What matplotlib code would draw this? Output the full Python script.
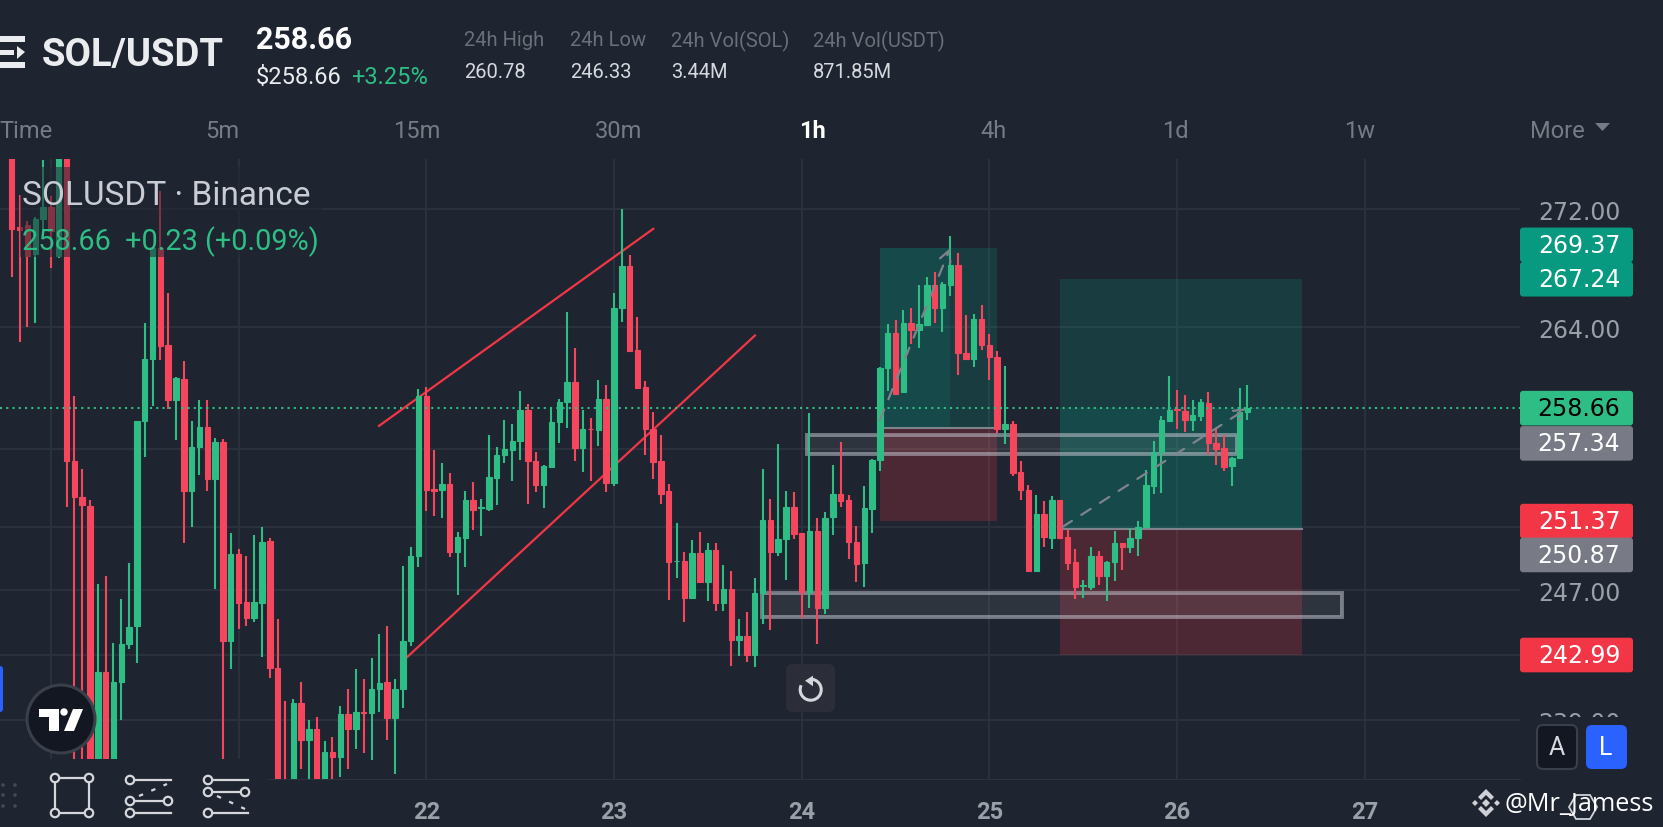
import numpy as np
import matplotlib
matplotlib.use("Agg")
import matplotlib.pyplot as plt
from matplotlib.patches import Rectangle, FancyBboxPatch, Circle, Polygon, Arc
from matplotlib.ticker import NullLocator, NullFormatter

# Hourly candles, first one is 53 hours before day 22
opens = [
    276.90, 270.80, 270.92, 268.98, 271.37, 272.20, 268.84, 276.90, 255.19, 252.93,
    252.36, 235.00, 241.96, 235.50, 241.32, 243.64, 244.77, 257.82, 261.91, 269.39,
    262.80, 259.22, 260.60, 253.32, 256.15, 257.40, 254.04, 256.48, 243.83, 249.26,
    246.30, 245.30, 246.24, 250.13, 242.17, 235.30, 234.80, 240.03, 237.81, 238.50,
    235.20, 237.07, 236.77, 239.36, 238.47, 239.51, 239.42, 240.90, 241.36, 239.14,
    240.90, 243.83, 249.13, 259.44, 253.44, 253.34, 253.76, 249.38, 250.32, 252.74,
    252.23, 252.17, 254.11, 255.59, 255.96, 256.49, 258.52, 255.25, 253.70, 254.86,
    257.74, 259.04, 260.35, 256.09, 257.33, 257.26, 259.28, 253.83, 265.27, 268.14,
    262.47, 260.07, 257.33, 255.21, 253.26, 248.82, 248.83, 246.55, 249.32, 247.53,
    249.53, 246.18, 247.07, 243.89, 244.19, 243.02, 246.81, 251.41, 249.38, 250.26,
    252.25, 250.63, 246.89, 250.75, 245.87, 251.61, 253.12, 252.74, 250.07, 248.69,
    252.17, 255.27, 261.33, 263.66, 259.70, 264.27, 263.80, 264.13, 266.84, 265.33,
    266.84, 268.18, 262.27, 261.93, 264.53, 262.80, 262.02, 257.33, 257.65, 254.49,
    253.34, 248.21, 251.85, 250.32, 252.74, 250.34, 248.75, 247.29, 247.21, 249.13,
    247.89, 248.75, 249.95, 249.70, 250.32, 251.00, 253.63, 255.79, 257.85, 258.59,
    258.50, 257.91, 258.13, 259.02, 256.41, 256.04, 254.88, 255.40, 258.42,
]
closes = [
    270.65, 270.60, 268.84, 271.37, 272.20, 270.50, 276.90, 255.19, 252.93, 252.42,
    235.00, 241.96, 235.50, 241.36, 243.64, 244.72, 257.82, 261.91, 269.39, 262.73,
    259.22, 260.63, 253.32, 256.15, 257.40, 254.04, 256.48, 243.83, 249.26, 246.24,
    245.30, 246.30, 250.07, 242.17, 235.30, 234.80, 240.03, 237.81, 238.50, 235.20,
    237.07, 236.77, 239.36, 238.47, 239.51, 239.42, 240.90, 241.30, 239.14, 240.90,
    243.83, 249.13, 259.44, 253.38, 253.32, 253.76, 249.38, 250.34, 252.74, 252.06,
    252.26, 254.17, 255.63, 256.02, 256.49, 258.52, 255.25, 253.70, 254.92, 257.74,
    259.09, 260.35, 256.09, 257.33, 257.30, 259.28, 253.83, 265.27, 268.14, 262.40,
    260.00, 257.33, 255.14, 253.12, 248.75, 248.85, 246.55, 249.32, 247.53, 249.53,
    246.18, 247.07, 243.89, 244.19, 243.02, 246.81, 251.41, 249.38, 250.26, 252.25,
    250.57, 246.89, 250.75, 245.87, 251.59, 253.12, 252.68, 250.07, 248.63, 252.23,
    255.31, 261.33, 263.60, 259.61, 264.27, 263.80, 264.20, 266.84, 265.33, 266.89,
    268.18, 262.27, 261.87, 264.53, 262.80, 262.02, 257.33, 257.65, 254.47, 253.34,
    248.21, 251.85, 250.34, 252.74, 250.32, 248.69, 247.21, 247.33, 249.13, 247.89,
    248.75, 249.95, 249.72, 250.32, 251.00, 253.70, 255.83, 257.91, 258.57, 258.55,
    257.91, 258.19, 259.04, 256.41, 256.02, 254.86, 255.44, 258.44, 258.66,
]
highs = [
    277.50, 273.00, 271.23, 271.50, 275.40, 272.95, 277.40, 277.50, 259.43, 254.70,
    252.74, 247.39, 247.87, 243.70, 246.49, 248.69, 257.82, 264.30, 269.39, 273.30,
    266.34, 260.73, 261.74, 257.85, 259.22, 259.22, 256.74, 256.67, 250.63, 249.63,
    249.13, 250.50, 250.97, 250.32, 245.24, 240.15, 240.27, 241.32, 239.00, 239.18,
    237.73, 237.97, 239.90, 240.90, 242.13, 241.49, 242.78, 244.29, 244.81, 241.49,
    248.50, 249.70, 259.91, 260.08, 255.96, 255.12, 254.47, 250.69, 253.32, 253.85,
    252.80, 256.93, 256.11, 257.91, 257.65, 259.81, 258.96, 255.83, 254.99, 258.76,
    259.28, 265.00, 262.66, 258.57, 258.04, 260.53, 260.20, 266.34, 272.05, 268.91,
    264.67, 260.47, 258.44, 256.89, 253.76, 251.25, 249.44, 250.15, 250.69, 250.00,
    249.95, 248.56, 248.19, 245.24, 245.68, 247.77, 254.73, 252.80, 256.35, 253.32,
    253.20, 250.63, 258.37, 251.59, 251.93, 254.99, 256.48, 253.01, 251.06, 253.59,
    255.38, 261.35, 264.20, 264.47, 265.20, 265.33, 266.82, 267.37, 267.72, 267.03,
    270.16, 269.05, 264.80, 264.93, 265.53, 263.53, 262.40, 261.42, 257.80, 255.21,
    253.66, 253.06, 252.68, 252.99, 252.74, 250.81, 249.63, 247.63, 249.72, 249.46,
    248.83, 250.75, 249.95, 250.94, 251.37, 254.67, 256.49, 258.13, 260.75, 259.87,
    259.50, 259.17, 259.28, 259.74, 257.39, 256.93, 255.51, 260.00, 260.15,
]
lows = [
    267.40, 263.00, 264.03, 264.27, 270.50, 268.02, 268.70, 252.28, 235.00, 236.00,
    234.50, 234.50, 235.00, 235.00, 239.03, 243.39, 242.50, 255.50, 258.83, 261.80,
    258.63, 256.60, 249.95, 250.97, 254.30, 253.32, 247.07, 236.00, 242.13, 244.59,
    244.81, 245.05, 242.84, 241.55, 235.00, 234.50, 234.50, 236.10, 235.30, 235.00,
    235.00, 235.30, 235.63, 236.05, 237.25, 237.01, 236.59, 239.48, 237.81, 235.78,
    239.78, 243.52, 248.44, 252.04, 251.68, 251.59, 249.09, 246.70, 248.44, 250.81,
    250.40, 252.04, 252.37, 255.12, 253.93, 255.31, 252.48, 253.20, 252.23, 254.80,
    256.41, 257.39, 255.21, 254.49, 253.93, 256.22, 253.20, 253.63, 264.34, 262.40,
    259.94, 255.63, 254.08, 252.44, 246.37, 247.77, 245.00, 246.49, 247.53, 246.33,
    245.74, 245.74, 242.31, 242.92, 242.55, 242.23, 244.93, 244.56, 249.15, 247.65,
    250.26, 245.30, 245.93, 243.64, 245.50, 250.50, 252.25, 248.94, 247.53, 247.21,
    250.63, 254.56, 259.77, 259.61, 259.70, 262.87, 262.60, 264.13, 264.27, 263.69,
    266.09, 260.87, 261.80, 261.40, 262.48, 260.49, 257.07, 256.35, 254.27, 252.74,
    248.21, 248.13, 249.70, 249.63, 250.26, 248.25, 246.49, 246.55, 247.00, 247.31,
    246.33, 247.59, 248.25, 249.32, 249.13, 251.00, 253.12, 253.19, 257.85, 257.33,
    257.09, 257.20, 257.80, 255.63, 254.99, 254.56, 253.59, 255.40, 257.87,
]

day_ticks = [20, 21, 22, 23, 24, 25, 26, 27]
day_labels = ["", "", "22", "23", "24", "25", "26", "27"]
price_ticks = [272, 264, 256, 251, 247, 243, 239]
price_labels = ["272.00", "264.00", "", "", "247.00", "", "239.00"]
last_price = 258.66

# start day, end day, stop, entry, target
short_box = (24.417, 25.042, 251.37, 257.34, 269.37)
long_box = (25.375, 26.667, 242.99, 250.87, 267.24)
# gray zones: start day, end day, low, high
zones = [(24.03, 26.318, 255.68, 256.90), (23.79, 26.88, 245.37, 246.83)]
# trend lines: day, price, day, price
trend_lines = [(21.748, 257.50, 23.209, 270.67), (21.896, 242.84, 23.751, 263.46)]

tag_values = ["269.37", "267.24", "258.66", "257.34", "251.37", "250.87", "242.99"]
tag_colors = ["#089981", "#089981", "#2ebd85", "#787b86", "#f23645", "#787b86", "#f23645"]
tag_text = ["white", "white", "black", "white", "white", "white", "white"]
tag_shift = [-3, 0, 0, 15, 0, 26, 0]

stat_names = ["24h High", "24h Low", "24h Vol(SOL)", "24h Vol(USDT)"]
stat_values = ["260.78", "246.33", "3.44M", "871.85M"]
stat_x = [464, 570, 671, 813]
intervals = ["Time", "5m", "15m", "30m", "1h", "4h", "1d", "1w"]
interval_x = [26, 222, 417, 619, 812, 994, 1175, 1360]

BG = "#1e2530"
GRID = "#2d333e"
GREEN = "#2ebd85"
RED = "#f6465d"
W, H = 1663, 828

plt.rcParams["font.family"] = ["Roboto", "DejaVu Sans"]

fig = plt.figure(figsize=(W / 100, H / 100), dpi=100, facecolor=BG)
ax = fig.add_axes([0, 48.3 / H, 1520 / W, 620 / H], facecolor=BG)

# Price axis is logarithmic
ax.set_yscale("log")
ax.yaxis.set_minor_locator(NullLocator())
ax.yaxis.set_minor_formatter(NullFormatter())
ax.set_ylim(235.5, 275.52)
ax.set_xlim(19.729, 27.827)
ax.set_yticks(price_ticks)
ax.set_yticklabels(price_labels, family="DejaVu Sans", fontsize=17, color="#9a9fa8")
ax.yaxis.tick_right()
ax.set_xticks(day_ticks)
ax.set_xticklabels(day_labels, fontsize=17, fontweight="bold", color="#9a9fa8")
ax.tick_params(axis="x", length=0, pad=15)
ax.tick_params(axis="y", length=0, pad=13)
ax.grid(True, color=GRID, lw=1.3, zorder=0)
ax.set_axisbelow(True)
for name, spine in ax.spines.items():
    spine.set_visible(name == "bottom")
    spine.set_color(GRID)

# Position boxes, the brighter part is what the trade has already covered
x0, x1, stop, entry, target = short_box
ax.add_patch(Rectangle((x0, entry), x1 - x0, target - entry, fc="#089981", alpha=0.2, lw=0, zorder=1))
ax.add_patch(Rectangle((x0, entry), 24.792 - x0, target - entry, fc="#089981", alpha=0.15, lw=0, zorder=1))
ax.add_patch(Rectangle((x0, stop), x1 - x0, entry - stop, fc="#f23645", alpha=0.22, lw=0, zorder=1))
x0, x1, stop, entry, target = long_box
ax.add_patch(Rectangle((x0, entry), x1 - x0, target - entry, fc="#089981", alpha=0.2, lw=0, zorder=1))
ax.add_patch(Rectangle((x0, entry), x1 - x0, last_price - entry, fc="#089981", alpha=0.15, lw=0, zorder=1))
ax.add_patch(Rectangle((x0, stop), x1 - x0, entry - stop, fc="#f23645", alpha=0.22, lw=0, zorder=1))
ax.plot([short_box[0], short_box[1]], [short_box[3]] * 2, color="#7f838c", lw=1.5, zorder=1.5)
ax.plot([long_box[0], long_box[1]], [long_box[3]] * 2, color="#7f838c", lw=1.5, zorder=1.5)

for x0, x1, low, high in zones:
    ax.add_patch(Rectangle((x0, low), x1 - x0, high - low, fc=(1, 1, 1, 0.07), ec=(0.8, 0.81, 0.85, 0.5), lw=2.8, zorder=2))

for xa, ya, xb, yb in trend_lines:
    ax.plot([xa, xb], [ya, yb], color="#f23645", lw=1.6, zorder=2.5)

# Candles
o = np.array(opens)
c = np.array(closes)
hi = np.array(highs)
lo = np.array(lows)
days = 22 + (np.arange(len(o)) - 53) / 24
colors = [GREEN if b >= a else RED for a, b in zip(o, c)]
ax.vlines(days, lo, hi, colors=colors, lw=1.5, zorder=3)
ax.bar(days, np.abs(c - o), bottom=np.minimum(o, c), width=0.029, color=colors, edgecolor=colors, lw=0.8, zorder=3)

# Dashed arrows of the two positions
arrow = dict(arrowstyle="->", linestyle=(0, (5, 5)), color="#7f838c", lw=1.6, mutation_scale=20, shrinkA=0, shrinkB=0)
ax.annotate("", xy=(24.792, 269.37), xytext=(24.417, 257.9), arrowprops=arrow, zorder=4)
ax.annotate("", xy=(26.375, last_price), xytext=(25.39, 251.0), arrowprops=arrow, zorder=4)

ax.axhline(last_price, color=GREEN, lw=1.5, ls=(0, (1, 2)), zorder=4)

# Everything around the chart is drawn on a pixel overlay
ui = fig.add_axes([0, 0, 1, 1], facecolor="none", zorder=5)
ui.set_xlim(0, W)
ui.set_ylim(H, 0)
ui.axis("off")


def price_y(value):
    return H - ax.transData.transform((22, value))[1]


def round_box(x, y, w, h, fc, ec="none", lw=0, r=3, zorder=2):
    ui.add_patch(FancyBboxPatch((x + r, y + r), w - 2 * r, h - 2 * r, boxstyle=f"round,pad={r},rounding_size={r}",
                                fc=fc, ec=ec, lw=lw, zorder=zorder))


# Legend sits on a faded strip over the candles
ui.add_patch(Rectangle((20, 168), 302, 90, fc=BG, alpha=0.55, lw=0, zorder=1))
ui.text(22, 196, "SOLUSDT · Binance", color="#c9ccd4", fontsize=24, va="center", family="Roboto", zorder=2)
ui.text(22, 242, "258.66  +0.23 (+0.09%)", color=GREEN, fontsize=20.8, va="center", family="Roboto", zorder=2)

# Header
ui.add_patch(Rectangle((0, 37), 25, 6, fc="#eaecef", lw=0))
ui.add_patch(Rectangle((0, 51), 14, 5, fc="#eaecef", lw=0))
ui.add_patch(Polygon([(17, 47), (25, 53), (17, 60)], fc="#eaecef", lw=0))
ui.add_patch(Rectangle((0, 63), 25, 6, fc="#eaecef", lw=0))
ui.text(42, 55, "SOL/USDT", color="#eaecef", fontsize=27.5, fontweight="bold", va="center")
ui.text(256, 40, "258.66", color="#ffffff", fontsize=22, fontweight="bold", va="center")
ui.text(256, 78, "$258.66", color="#eaecef", fontsize=17, va="center")
ui.text(351, 78, "+3.25%", color=GREEN, fontsize=17, va="center")
for name, value, x in zip(stat_names, stat_values, stat_x):
    ui.text(x, 41, name, color="#6a7079", fontsize=14.5, va="center")
    ui.text(x, 73, value, color="#d5d8de", fontsize=14.5, va="center")

for label, x in zip(intervals, interval_x):
    active = label == "1h"
    ui.text(x, 132, label, color="#ffffff" if active else "#767c86", fontsize=17, ha="center", va="center",
            fontweight="bold" if active else "normal")
ui.text(1530, 132, "More", color="#767c86", fontsize=17, va="center")
ui.add_patch(Polygon([(1595, 124), (1610, 124), (1602.5, 132)], fc="#767c86", lw=0))

# Price tags
for value, color, text_color, shift in zip(tag_values, tag_colors, tag_text, tag_shift):
    y = price_y(float(value)) + shift
    round_box(1520, y - 17.3, 113, 34.6, color)
    ui.text(1579, y, value, color=text_color, fontsize=17, ha="center", va="center", family="DejaVu Sans", zorder=3)

# Refresh button
round_box(786, 665, 49, 48, "#2b2e39", r=7)
ui.add_patch(Arc((810.7, 690.7), 21, 21, theta1=-90, theta2=205, color="#d5d7dc", lw=2.2, zorder=3))
ui.add_patch(Polygon([(805, 681.7), (813, 676.7), (813, 687.3)], fc="#d5d7dc", lw=0, zorder=3))

# Left tab and TradingView badge
round_box(-6, 667, 9, 46, "#2962ff", r=3)
ui.add_patch(Circle((61, 720), 34, fc="#131722", ec="#3a3f4a", lw=2.2, zorder=4))
ui.add_patch(Polygon([(39, 710), (59, 710), (59, 732), (49, 732), (49, 718), (39, 718)], fc="white", lw=0, zorder=5))
ui.add_patch(Circle((64, 713), 3.7, fc="white", lw=0, zorder=5))
ui.add_patch(Polygon([(73, 710), (83, 710), (74, 732), (64, 732)], fc="white", lw=0, zorder=5))

# Drawing toolbar hides the candles below it
ui.add_patch(FancyBboxPatch((-20, 772), 275, 80, boxstyle="round,pad=12,rounding_size=12", fc=BG, ec="none", zorder=3))
ICON = "#d5d7dc"


def handle(x, y):
    ui.add_patch(Circle((x, y), 4.2, fc=BG, ec=ICON, lw=1.6, zorder=5))


def stroke(xa, ya, xb, yb, **kw):
    ui.plot([xa, xb], [ya, yb], color=ICON, lw=kw.pop("lw", 1.6), zorder=4, **kw)


for x in (3, 15):
    for y in (786, 796, 807):
        ui.add_patch(Circle((x, y), 1.8, fc="#454a55", lw=0, zorder=4))
stroke(55, 779, 89, 779)
stroke(55, 814, 89, 814)
stroke(55, 779, 55, 814)
stroke(89, 779, 89, 814)
for x, y in [(55, 779), (89, 779), (55, 814), (89, 814)]:
    handle(x, y)
stroke(130, 781, 171, 781)
stroke(130, 802, 168, 802)
stroke(130, 814, 171, 814)
stroke(139, 797, 167, 785, ls=(0, (2, 4)))
for x, y in [(130, 781), (130, 802), (168, 802), (130, 814)]:
    handle(x, y)
stroke(208, 781, 248, 781)
stroke(208, 793, 245, 793)
stroke(208, 814, 248, 814)
stroke(217, 797, 245, 810, ls=(0, (2, 4)))
for x, y in [(208, 781), (208, 793), (245, 793), (208, 814)]:
    handle(x, y)

# A and L buttons, they cut off the 239.00 label
ui.add_patch(Rectangle((1525, 718), 125, 58, fc=BG, lw=0, zorder=1))
round_box(1537, 726, 40, 44, "#131722", ec="#3a3f4a", lw=1.5, r=6)
ui.text(1557, 748, "A", color="#d8dae0", fontsize=18, ha="center", va="center", zorder=3)
round_box(1586, 726, 41, 44, "#2962ff", r=6)
ui.text(1606, 748, "L", color="#ffffff", fontsize=18, ha="center", va="center", zorder=3)

# Watermark: small diamonds of the exchange logo, hexagon behind the name
for cx, cy, r in [(1486, 804, 4), (1475, 804, 3), (1497, 804, 3)]:
    ui.add_patch(Polygon([(cx, cy - r), (cx + r, cy), (cx, cy + r), (cx - r, cy)], fc="#cfd1d6", lw=0, zorder=3))
ui.add_patch(Polygon([(1486, 790), (1494, 798), (1491, 801), (1486, 796), (1481, 801), (1478, 798)], fc="#cfd1d6", lw=0, zorder=3))
ui.add_patch(Polygon([(1486, 818), (1494, 810), (1491, 807), (1486, 812), (1481, 807), (1478, 810)], fc="#cfd1d6", lw=0, zorder=3))
ui.add_patch(Polygon([(1569, 808), (1576, 796), (1590, 796), (1597, 808), (1590, 820), (1576, 820)],
                     fc="none", ec="#cfd1d6", lw=1.3, zorder=3))
ui.text(1505, 805, "@Mr_Jamess", color="#ffffff", fontsize=18.2, va="center", family="Open Sans", zorder=4)

fig.savefig("out.png", dpi=100, facecolor=BG)
